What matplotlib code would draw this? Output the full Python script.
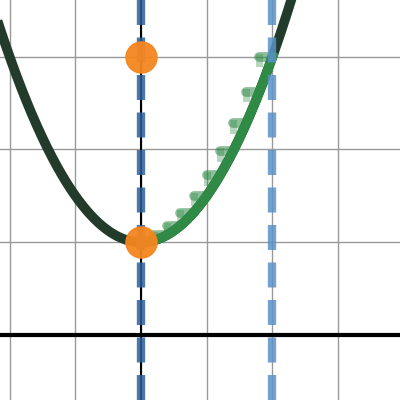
import numpy as np
import matplotlib.pyplot as plt

# parabola y = 1 + 0.5 x^2
a_coef = 0.5
c_coef = 1.0
x_left, x_right = 0.0, 2.0
step_x = [0.2, 0.4, 0.6, 0.8, 1.0, 1.2, 1.4, 1.6, 1.8, 2.0]
pts_x = [0, 0]
pts_y = [1, 3]

def f(x):
    return c_coef + a_coef * x**2

fig = plt.figure(figsize=(4, 4), dpi=100)
ax = fig.add_axes([0, 0, 1, 1])
ax.set_xlim(-2.146, 3.94)
ax.set_ylim(-0.70, 3.61)
ax.axis("off")

for gx in range(-2, 4):
    ax.axvline(gx, color="#999999", lw=1, zorder=0)
for gy in range(1, 4):
    ax.axhline(gy, color="#999999", lw=1, zorder=0)
ax.axhline(0, color="black", lw=3, zorder=1)
ax.axvline(0, color="black", lw=1.5, zorder=1)

xs = np.linspace(-2.2, 4, 400)
ax.plot(xs, f(xs), color="#233b2a", lw=7, zorder=2)

xg = np.linspace(x_left, x_right, 200)
ax.plot(xg, f(xg), color="#2f8a45", lw=7, zorder=3)

for sx in step_x:
    ax.plot([sx - 0.2, sx], [f(sx), f(sx)], color="#2f8a45", lw=7, alpha=0.55,
            solid_capstyle="round", zorder=3)
    ax.plot([sx - 0.2, sx - 0.2], [f(sx), f(sx) - 0.07], color="#2f8a45", lw=5,
            alpha=0.35, zorder=3)

ax.axvline(0, color="#2d5f9a", lw=6, dashes=(3, 1.5), alpha=0.85, zorder=4)
ax.axvline(2, color="#5b92c8", lw=6, dashes=(3, 1.5), alpha=0.85, zorder=4)

ax.scatter(pts_x, pts_y, s=500, color="#f5861f", zorder=5, alpha=0.95)

fig.savefig("out.png")
